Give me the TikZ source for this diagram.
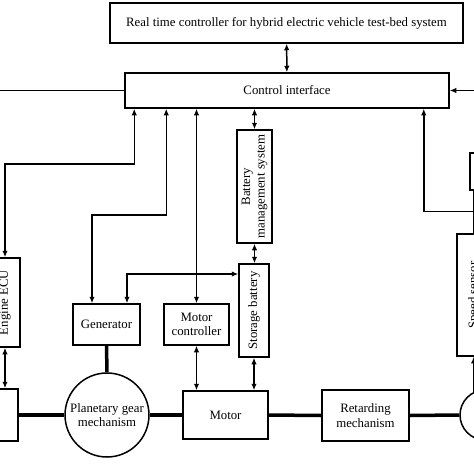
\documentclass[tikz,border=0pt]{standalone}
\usepackage{fontspec}
\setmainfont{Liberation Serif}
\usetikzlibrary{arrows.meta}
\begin{document}
\begin{tikzpicture}[x=1pt,y=-1pt,
	box/.style={draw,line width=1.5pt,inner sep=0pt,align=center,font=\fontsize{12.8}{14.5}\selectfont},
	wire/.style={line width=1.5pt,>={Latex[length=6.5pt,width=5.5pt]}},
	shaft/.style={line width=3.5pt}]
			\useasboundingbox (0,0) rectangle (474,474);
			\clip (0,0) rectangle (474,474);
			\node[box,minimum width=353,minimum height=40] (rtc) at (286.5,23) {Real time controller for hybrid electric vehicle test-bed system};
			\node[box,minimum width=324,minimum height=35] (ci) at (287,90.5) {Control interface};
			\node[box,minimum width=30,minimum height=89] (ecu) at (5,302.5) {\rotatebox{90}{Engine ECU}};
			\node[box,minimum width=58,minimum height=52] (engine) at (-11,415) {};
			\node[box,minimum width=67,minimum height=41] (gen) at (106.5,324.5) {Generator};
			\node[box,minimum width=65,minimum height=41] (mc) at (196.5,324.5) {Motor\\controller};
			\node[box,minimum width=35,minimum height=113] (bms) at (254.5,186.5) {\rotatebox{90}{\begin{tabular}{@{}c@{}}Battery\\management system\end{tabular}}};
			\node[box,minimum width=30,minimum height=93] (sb) at (254,310.5) {\rotatebox{90}{Storage battery}};
			\node[box,circle,minimum size=84] (pg) at (107,415) {Planetary gear\\mechanism};
			\node[box,minimum width=85,minimum height=48] (motor) at (225.5,415) {Motor};
			\node[box,minimum width=87,minimum height=51] (rm) at (365.5,415.5) {Retarding\\mechanism};
			\node[box,circle,minimum size=50] (wheel) at (485,415) {};
			\node[box,minimum width=34,minimum height=122] (ss) at (474,295) {\rotatebox{90}{Speed sensor}};
			\node[box,minimum width=40,minimum height=37] (sbox) at (490,171.5) {};
			\coordinate (lft) at (-30,90.5);
			\coordinate (rgt) at (500,90.5);

			\draw[wire,<->] (rtc) -- (ci);
			\draw[wire] (ci.west) -- (lft);
			\draw[wire,->] (rgt) -- (ci.east);
			\draw[wire,<->] ([xshift=10pt]ci.south west) -- ++(0,55) -| (ecu.north);
			\draw[wire,<->] ([xshift=42pt]ci.south west) -- ++(0,106) -| ([xshift=-14.5pt]gen.north);
			\draw[wire,<->] (ci.south -| mc.north) -- (mc.north);
			\draw[wire,<->] (ci.south -| bms.north) -- (bms.north);
			\draw[wire,<->] (bms.south) -- (bms.south |- sb.north);
			\draw[wire,<->] (sb.south) -- (sb.south |- motor.north);
			\draw[wire,<->] ([xshift=20.5pt]gen.north) |- ([yshift=36.5pt]sb.west);
			\draw[wire,<->] (mc.south) -- (mc.south |- motor.north);
			\draw[wire,<->] (ecu.south) -- (ecu.south |- engine.north);
			\draw[wire,->] (wheel.116) -- (wheel.116 |- ss.south);
			\draw[wire,->] (ss.north) -- ++(0,-22) -| ([xshift=-26pt]ci.south east);
			\draw[wire] (ss.north) -- (ss.north |- sbox.south);

			\draw[shaft] (engine.east) -- (pg.west);
			\draw[shaft] (gen.south) -- (pg.north);
			\draw[shaft] (pg.east) -- (motor.west);
			\draw[shaft] (motor.east) -- (rm.west);
			\draw[shaft] (rm.east) -- (wheel.west);
		\end{tikzpicture}
\end{document}
